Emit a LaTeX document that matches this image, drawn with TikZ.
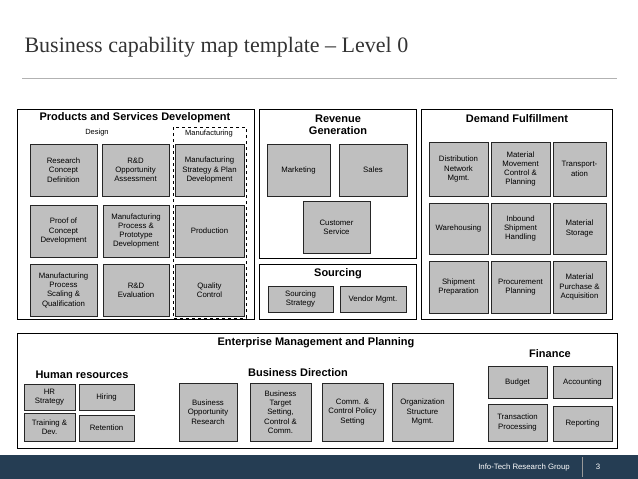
\documentclass[tikz,border=0pt]{standalone}
\usepackage{fontspec}
\setmainfont{Liberation Sans}
\newfontfamily\titlefont{Liberation Serif}
\begin{document}
\begin{tikzpicture}[x=1pt,y=-1pt,
  capbox/.style={draw=black!85,fill=black!25,line width=0.7pt,align=center,font=\fontsize{7.8}{9.3}\selectfont,inner sep=1pt},
  grp/.style={draw=black,line width=0.8pt},
  hd/.style={font=\bfseries\fontsize{11}{12.5}\selectfont,align=center},
  sub/.style={font=\fontsize{7.5}{9}\selectfont}]
\useasboundingbox (0,0) rectangle (638,479);
\newcommand\bx[6]{\node[capbox,minimum width=#4-#2,minimum height=#5-#3] (#1) at ({(#2+#4)/2},{(#3+#5)/2}) {#6};}
\node[anchor=west,font=\titlefont\fontsize{22}{26}\selectfont,text=black!80] (title) at (21,47) {Business capability map template – Level 0};
\draw[black!30,line width=1pt] (22,78) coordinate (l1) -- (617,78) coordinate (l2);
% groups
\draw[grp] (17,109) rectangle (254,319);
\draw[grp] (259,109) rectangle (416,258);
\draw[grp] (259,264) rectangle (416,319);
\draw[grp] (421,109) rectangle (612,319);
\draw[grp] (17,333) rectangle (617,448);
\draw[dashed,line width=0.6pt] (173,127) rectangle (246,318);
% headers
\node[hd] (h1) at (135,118) {Products and Services Development};
\node[sub] (d1) at (97,133) {Design};
\node[sub] (d2) at (209,134) {Manufacturing};
\node[hd] (h2) at (338,125) {Revenue\\Generation};
\node[hd] (h3) at (338,274) {Sourcing};
\node[hd] (h4) at (517,119) {Demand Fulfillment};
\node[hd] (h5) at (316,343) {Enterprise Management and Planning};
\node[hd] (h6) at (550,354) {Finance};
\node[hd] (h7) at (82,375) {Human resources};
\node[hd] (h8) at (298,373) {Business Direction};
% PSD
\bx{a1}{30}{144}{97}{196}{Research\\Concept\\Definition}
\bx{a2}{102}{144}{169}{196}{R\&D\\Opportunity\\Assessment}
\bx{a3}{175}{144}{244}{196}{Manufacturing\\Strategy \& Plan\\Development}
\bx{a4}{30}{205}{97}{257}{Proof of\\Concept\\Development}
\bx{a5}{103}{205}{169}{257}{Manufacturing\\Process \&\\Prototype\\Development}
\bx{a6}{175}{205}{244}{257}{Production}
\bx{a7}{30}{264}{97}{316}{Manufacturing\\Process\\Scaling \&\\Qualification}
\bx{a8}{103}{264}{169}{316}{R\&D\\Evaluation}
\bx{a9}{175}{264}{244}{316}{Quality\\Control}
% Revenue
\bx{r1}{267}{144}{330}{196}{Marketing}
\bx{r2}{339}{144}{407}{196}{Sales}
\bx{r3}{303}{201}{370}{253}{Customer\\Service}
% Sourcing
\bx{s1}{268}{286}{333}{312}{Sourcing\\Strategy}
\bx{s2}{340}{286}{406}{312}{Vendor Mgmt.}
% Demand
\bx{f1}{429}{142}{488}{196}{Distribution\\Network\\Mgmt.}
\bx{f2}{491}{142}{550}{196}{Material\\Movement\\Control \&\\Planning}
\bx{f3}{553}{142}{606}{196}{Transport-\\ation}
\bx{f4}{429}{203}{488}{254}{Warehousing}
\bx{f5}{491}{203}{550}{254}{Inbound\\Shipment\\Handling}
\bx{f6}{553}{203}{606}{254}{Material\\Storage}
\bx{f7}{429}{261}{488}{313}{Shipment\\Preparation}
\bx{f8}{491}{261}{550}{313}{Procurement\\Planning}
\bx{f9}{553}{261}{606}{313}{Material\\Purchase \&\\Acquisition}
% HR
\bx{e1}{24}{384}{75}{410}{HR\\Strategy}
\bx{e2}{79}{384}{134}{410}{Hiring}
\bx{e3}{24}{413}{75}{441}{Training \&\\Dev.}
\bx{e4}{79}{415}{134}{441}{Retention}
% BD
\bx{b1}{179}{383}{237}{441}{Business\\Opportunity\\Research}
\bx{b2}{250}{383}{311}{441}{Business\\Target\\Setting,\\Control \&\\Comm.}
\bx{b3}{322}{383}{383}{441}{Comm. \&\\Control Policy\\Setting}
\bx{b4}{392}{383}{453}{441}{Organization\\Structure\\Mgmt.}
% Finance
\bx{n1}{488}{366}{547}{398}{Budget}
\bx{n2}{553}{366}{612}{398}{Accounting}
\bx{n3}{488}{404}{547}{441}{Transaction\\Processing}
\bx{n4}{553}{406}{612}{441}{Reporting}
% footer
\fill[fill={rgb,255:red,37;green,61;blue,83}] (0,455) rectangle (638,479);
\draw[white!60!black,line width=0.5pt] (582,457) coordinate (p1) -- (582,477) coordinate (p2);
\node[text=white,font=\fontsize{7.8}{9}\selectfont] (ft) at (524,467) {Info-Tech Research Group};
\node[text=white,font=\fontsize{7.8}{9}\selectfont] (pg) at (598,467) {3};
\end{tikzpicture}
\end{document}
